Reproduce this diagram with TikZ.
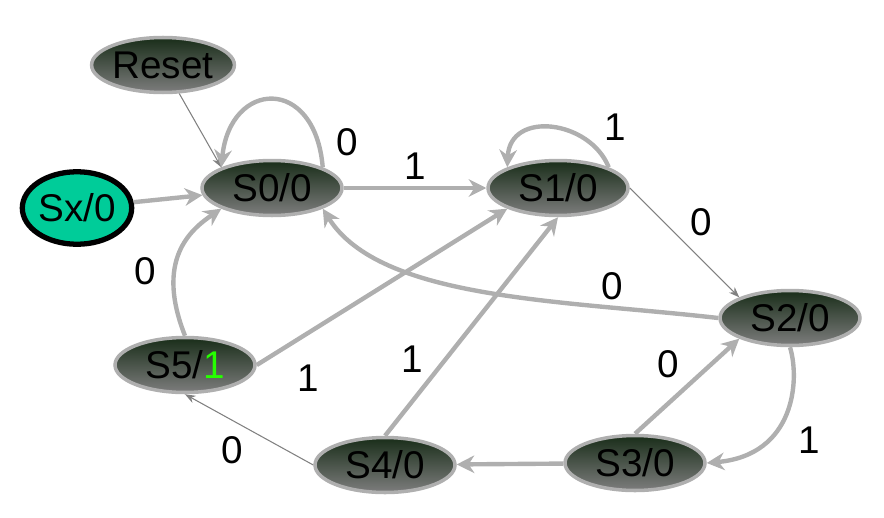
\documentclass[tikz,border=0pt]{standalone}
\usepackage{fontspec}
\setmainfont{Liberation Sans}
\usetikzlibrary{arrows.meta,positioning,shapes.geometric,calc}
\definecolor{stdark}{RGB}{25,45,25}
\definecolor{stlight}{RGB}{125,125,125}
\definecolor{sxgreen}{RGB}{0,204,153}
\definecolor{edgegray}{RGB}{175,175,175}
\tikzset{
  state/.style={ellipse, draw=edgegray, line width=2pt, top color=stdark, bottom color=stlight,
    minimum width=2.8cm, minimum height=1.1cm, inner sep=0pt, font=\fontsize{22}{24}\selectfont},
  trans/.style={draw=edgegray, line width=2.5pt, -{Stealth[length=10pt,width=10pt]}},
  thin/.style={draw=gray, line width=0.6pt, -{Stealth[length=6pt]}},
  lbl/.style={font=\fontsize{22}{24}\selectfont}
}
\begin{document}
\begin{tikzpicture}[x=0.02cm,y=-0.02cm]
        \useasboundingbox (0,0) rectangle (884,517);
        %nodes
        \node[state, minimum width=2.6cm, minimum height=1.1cm] (reset) at (163,65) {Reset};
        \node[ellipse, draw=black, line width=3pt, fill=sxgreen, minimum width=2.0cm, minimum height=1.45cm,
          inner sep=0pt, font=\fontsize{22}{24}\selectfont] (sx) at (77,208) {Sx/0};
        \node[state] (s0) at (272,188) {S0/0};
        \node[state] (s1) at (558,188) {S1/0};
        \node[state] (s2) at (790,318) {S2/0};
        \node[state] (s5) at (185,365) {S5/\textcolor{green!80!lime}{1}};
        \node[state] (s4) at (385,465) {S4/0};
        \node[state] (s3) at (635,463) {S3/0};
        %edges
        \path[thin] (reset) -- (s0.north west);
        \path[trans] (sx) -- (s0);
        \path[trans] (s0.north east) .. controls (315,75) and (230,80) .. (s0.north west) node[lbl, pos=0.1, right=6pt]{0};
        \path[trans] (s0) -- node[lbl, above]{1} (s1);
        \path[trans] (s1.north east) .. controls (590,120) and (510,110) .. (s1.north west) node[lbl, pos=0.15, above right]{1};
        \path[thin] (s1.east) -- node[lbl, above right]{0} (s2.north west);
        \path[trans] (s2.west) .. controls (560,300) and (380,300) .. (s0.south east) node[lbl, pos=0.22, above]{0};
        \path[trans] (s2.south) .. controls (800,380) and (795,455) .. (s3.east) node[lbl, pos=0.7, right=14pt]{1};
        \path[trans] (s3.north) -- node[lbl, above left]{0} (s2.south west);
        \path[trans] (s3) -- (s4);
        \path[trans] (s4.north) -- node[lbl, pos=0.35, left=8pt]{1} (s1.south);
        \path[thin] (s4.west) -- node[lbl, below left]{0} (s5.south);
        \path[trans] (s5.north) .. controls (155,260) and (190,230) .. (s0.south west) node[lbl, pos=0.35, left=6pt]{0};
        \path[trans] (s5.east) -- node[lbl, pos=0.1, below right=6pt]{1} (s1.south west);
\end{tikzpicture}
\end{document}
